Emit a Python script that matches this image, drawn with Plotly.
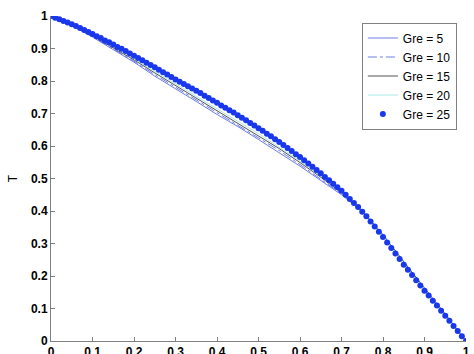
import plotly.graph_objects as go

# --- data ---
x_dots = [i / 100 for i in range(101)]
T_gre25 = [1.000, 0.995, 0.990, 0.985, 0.980, 0.975, 0.969, 0.963, 0.957, 0.951,
           0.945, 0.938, 0.932, 0.925, 0.919, 0.912, 0.905, 0.899, 0.892, 0.885,
           0.878, 0.871, 0.864, 0.856, 0.849, 0.842, 0.835, 0.827, 0.820, 0.812,
           0.805, 0.798, 0.791, 0.784, 0.777, 0.770, 0.763, 0.755, 0.748, 0.740,
           0.733, 0.725, 0.718, 0.710, 0.703, 0.695, 0.687, 0.679, 0.671, 0.663,
           0.655, 0.647, 0.638, 0.630, 0.621, 0.612, 0.603, 0.594, 0.585, 0.575,
           0.566, 0.556, 0.546, 0.536, 0.526, 0.516, 0.505, 0.495, 0.484, 0.473,
           0.462, 0.450, 0.437, 0.425, 0.412, 0.398, 0.384, 0.368, 0.352, 0.336,
           0.320, 0.303, 0.286, 0.269, 0.252, 0.235, 0.219, 0.203, 0.187, 0.171,
           0.155, 0.140, 0.124, 0.109, 0.093, 0.078, 0.062, 0.046, 0.031, 0.015,
           0.000]

x_lines = [0.00, 0.05, 0.10, 0.15, 0.20, 0.25, 0.30, 0.35, 0.40, 0.45, 0.50,
           0.55, 0.60, 0.65, 0.70, 0.75, 0.80, 0.85, 0.90, 0.95, 1.00]
T_gre5 = [1.0, 0.971, 0.935, 0.897, 0.858, 0.815, 0.777, 0.737, 0.697, 0.660, 0.620,
          0.580, 0.538, 0.494, 0.450, 0.398, 0.326, 0.243, 0.163, 0.082, 0.0]
T_gre10 = [1.0, 0.972, 0.937, 0.900, 0.861, 0.820, 0.781, 0.742, 0.702, 0.665, 0.626,
           0.586, 0.543, 0.499, 0.453, 0.400, 0.327, 0.244, 0.164, 0.083, 0.0]
T_gre15 = [1.0, 0.973, 0.939, 0.903, 0.865, 0.825, 0.786, 0.748, 0.708, 0.671, 0.632,
           0.592, 0.549, 0.504, 0.456, 0.401, 0.326, 0.243, 0.162, 0.082, 0.0]
T_gre20 = [1.0, 0.974, 0.941, 0.906, 0.869, 0.830, 0.791, 0.753, 0.714, 0.676, 0.638,
           0.597, 0.554, 0.508, 0.458, 0.401, 0.325, 0.241, 0.160, 0.081, 0.0]

tick_vals = [0, 0.1, 0.2, 0.3, 0.4, 0.5, 0.6, 0.7, 0.8, 0.9, 1]
tick_text = ["0", "0.1", "0.2", "0.3", "0.4", "0.5", "0.6", "0.7", "0.8", "0.9", "1"]

fig = go.Figure()
fig.add_trace(go.Scatter(x=x_lines, y=T_gre5, mode="lines", name="Gre = 5",
                         line=dict(color="rgb(70,90,230)", width=0.8)))
fig.add_trace(go.Scatter(x=x_lines, y=T_gre10, mode="lines", name="Gre = 10",
                         line=dict(color="rgb(70,90,230)", width=0.8, dash="dashdot")))
fig.add_trace(go.Scatter(x=x_lines, y=T_gre15, mode="lines", name="Gre = 15",
                         line=dict(color="rgb(40,40,40)", width=0.8)))
fig.add_trace(go.Scatter(x=x_lines, y=T_gre20, mode="lines", name="Gre = 20",
                         line=dict(color="rgb(150,225,225)", width=0.8)))
fig.add_trace(go.Scatter(x=x_dots, y=T_gre25, mode="markers", name="Gre = 25",
                         marker=dict(color="rgb(25,55,235)", size=6)))

axis_common = dict(
    showgrid=False, zeroline=False, showline=True, linecolor="#808080", linewidth=1,
    ticks="inside", ticklen=4, tickcolor="#808080", mirror=False, automargin=False,
    tickvals=tick_vals, ticktext=tick_text,
    tickfont=dict(family="Liberation Sans", size=12, color="black", weight="bold"),
)

fig.update_layout(
    width=474, height=354,
    margin=dict(l=51, r=8, t=16, b=13),
    paper_bgcolor="white", plot_bgcolor="white",
    xaxis=dict(range=[0, 1], **axis_common),
    yaxis=dict(range=[0, 1], **axis_common),
    showlegend=True,
    legend=dict(
        x=0.978, y=0.98, xanchor="right", yanchor="top",
        bordercolor="#808080", borderwidth=1, bgcolor="white",
        font=dict(family="Liberation Sans", size=12, color="black"),
        tracegroupgap=0,
    ),
    annotations=[dict(
        text="T", xref="paper", yref="paper", x=-0.092, y=0.5,
        xanchor="center", yanchor="middle", textangle=-90, showarrow=False,
        font=dict(family="Liberation Sans", size=12, color="black"),
    )],
)

fig.write_html("out.html")
